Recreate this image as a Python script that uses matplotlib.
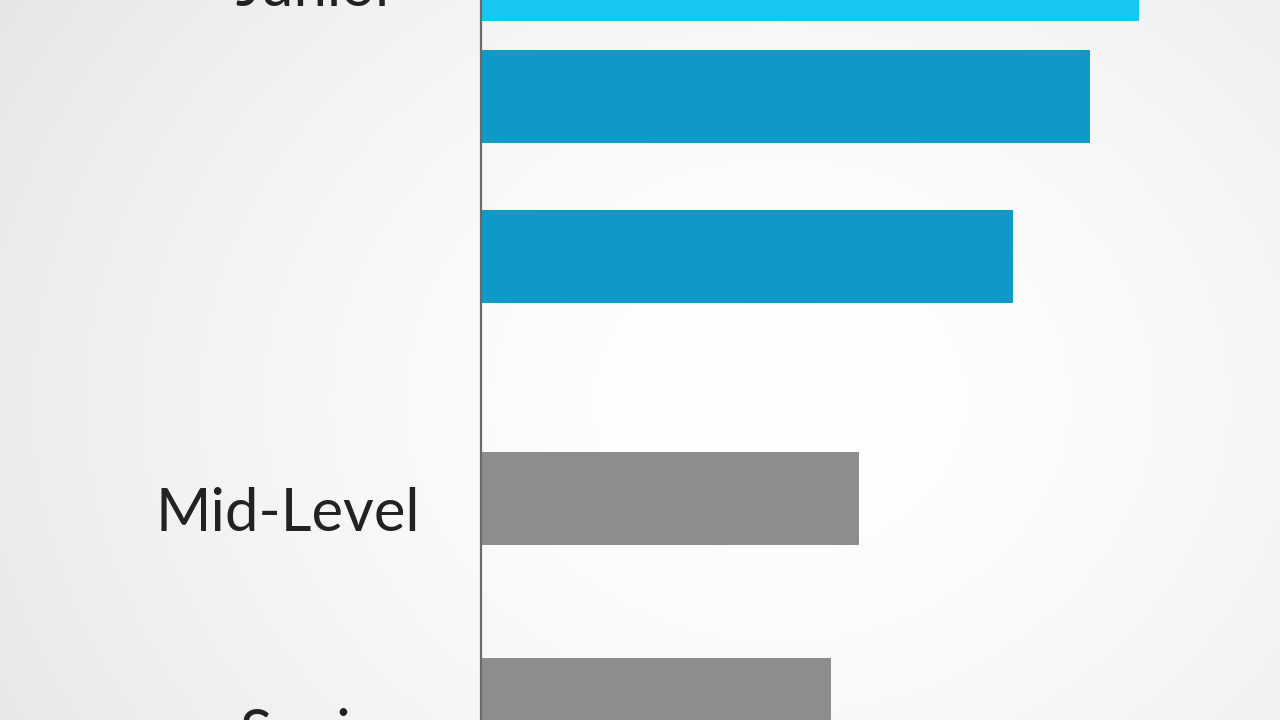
import numpy as np
import matplotlib.pyplot as plt

# ----- data -----
bar_groups = ["Junior", "Junior", "Junior", "Mid-Level", "Senior"]
bar_values = [94, 87, 76, 54, 50]
labels = ["Junior", "Mid-Level", "Senior"]

# ----- layout (pixel-like units, frame of an animated chart) -----
ROW_POS = [-25.5, 96.5, 256, 498, 704.5]
BAR_H = 93
LABEL_POS = {"Junior": (397, 6), "Mid-Level": (420, 531), "Senior": (406, 752)}
COLORS = ["#17C6F1", "#0F99C7", "#0F99C7", "#8D8D8D", "#8D8D8D"]
PX_PER_UNIT = 7.0
AXIS_PX = 481

W, H = 1280, 720
fig = plt.figure(figsize=(W / 100, H / 100), dpi=100)

# radial gradient background
bg = fig.add_axes([0, 0, 1, 1])
yy, xx = np.mgrid[0:H, 0:W]
r = np.sqrt(((xx - 780) / 780.0) ** 2 + ((yy - 400) / 650.0) ** 2)
shade = 1.0 - 0.075 * np.clip(r, 0, 1.3) ** 1.6
bg.imshow(np.dstack([shade] * 3), extent=[0, W, H, 0], aspect="auto")
bg.axis("off")

ax = fig.add_axes([0, 0, 1, 1])
ax.patch.set_alpha(0)
ax.set_xlim(-AXIS_PX / PX_PER_UNIT, (W - AXIS_PX) / PX_PER_UNIT)
ax.set_ylim(H, 0)
ax.axis("off")

ax.barh(ROW_POS, bar_values, height=BAR_H, color=COLORS, left=0, zorder=2)
ax.axvline(0, color="#6A6A6A", lw=1.6, zorder=3)

for lab in labels:
    px, py = LABEL_POS[lab]
    ax.text((px - AXIS_PX) / PX_PER_UNIT, py, lab, ha="right", va="baseline",
            fontsize=43, color="#222222", family=["Lato", "DejaVu Sans"])

fig.savefig("out.png", dpi=100)
